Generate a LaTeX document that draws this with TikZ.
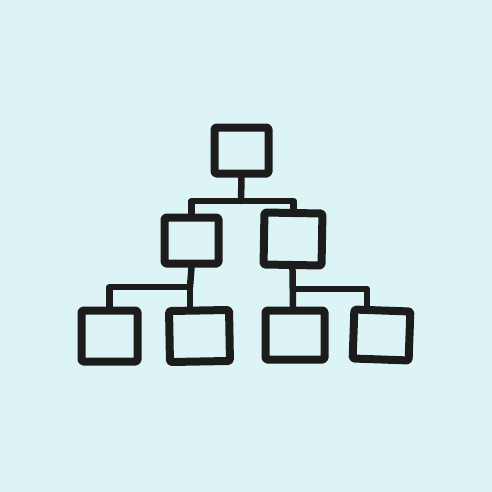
\documentclass[tikz,border=0pt]{standalone}
\definecolor{bgcyan}{HTML}{DDF4F7}
\definecolor{ink}{HTML}{1C1C1C}
\begin{document}
\begin{tikzpicture}[x=1pt, y=-1pt, line join=round, line cap=round,
  main/.style = {draw=ink, fill=bgcyan, rectangle, line width=8pt, inner sep=0pt, rounded corners=1.5pt},
  link/.style = {draw=ink, line width=6.5pt}]
    \fill[bgcyan] (0,0) rectangle (492,492);
    % boxes
    \node[main, minimum width=54pt, minimum height=46pt] (root) at (241.5,150.5) {};
    \node[main, minimum width=54pt, minimum height=46pt] (l) at (191.5,240.5) {};
    \node[main, minimum width=58pt, minimum height=52pt, rotate=-1] (r) at (293,239) {};
    \node[main, minimum width=56pt, minimum height=51pt] (ll) at (109.5,336) {};
    \node[main, minimum width=60pt, minimum height=51pt, rotate=1] (lr) at (199.5,336) {};
    \node[main, minimum width=59pt, minimum height=49pt] (rl) at (295,335) {};
    \node[main, minimum width=56pt, minimum height=49pt, rotate=-2] (rr) at (381.5,335) {};
    % connectors
    \coordinate (j1) at (241,201);
    \coordinate (j2) at (190,287);
    \coordinate (j3) at (293,289);
    \coordinate (k4) at (367,307);
    \draw[link] (root.south) -- (j1);
    \draw[link] (l.north) |- (j1) -| (r.north);
    \draw[link] (l.south) -- (j2);
    \draw[link] (ll.north) |- (j2) -- (j2 |- lr.north);
    \draw[link] (r.south) -- (j3 |- rl.north);
    \draw[link] (j3) -| (k4);
\end{tikzpicture}
\end{document}
